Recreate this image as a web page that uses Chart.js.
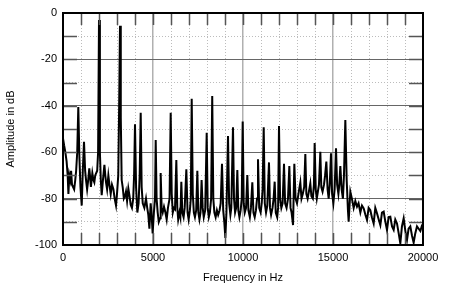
<!DOCTYPE html>
<html>
<head>
<meta charset="utf-8">
<script src="https://cdn.jsdelivr.net/npm/chart.js@4.4.1/dist/chart.umd.min.js"></script>
<style>
  html, body { margin: 0; padding: 0; background: #fff; }
  #wrap { width: 450px; height: 288px; }
</style>
</head>
<body>
<div id="wrap"><canvas id="chart-spektrum"></canvas></div>
<script>
// Spektrum: frekuensi (Hz) dan level (dB)
const freqHz = [
    0, 60, 130, 200, 260, 300, 350, 400, 450, 500, 560, 620, 680, 730, 790, 850, 910, 970,
    1040, 1100, 1167, 1230, 1280, 1340, 1400, 1460, 1510, 1550, 1630, 1690, 1740, 1790, 1833, 1900, 1950, 2000,
    2050, 2100, 2150, 2220, 2300, 2350, 2390, 2450, 2520, 2580, 2650, 2720, 2800, 2870, 2945, 3000, 3070, 3120,
    3167, 3210, 3260, 3316, 3380, 3444, 3500, 3560, 3630, 3700, 3760, 3830, 3900, 3950, 4000, 4060, 4130, 4200,
    4260, 4317, 4370, 4430, 4520, 4611, 4680, 4740, 4800, 4870, 4930, 4980, 5050, 5111, 5150, 5200, 5260, 5320,
    5390, 5426, 5480, 5540, 5611, 5690, 5760, 5830, 5920, 5983, 6040, 6100, 6160, 6222, 6296, 6350, 6400, 6470,
    6520, 6574, 6630, 6700, 6760, 6852, 6920, 6980, 7050, 7100, 7150, 7210, 7270, 7330, 7400, 7463, 7520, 7580,
    7640, 7700, 7760, 7820, 7900, 7983, 8040, 8100, 8160, 8230, 8290, 8350, 8410, 8480, 8550, 8620, 8700, 8760,
    8833, 8900, 8960, 9019, 9080, 9167, 9230, 9300, 9350, 9444, 9500, 9560, 9620, 9685, 9740, 9800, 9870, 9930,
    9983, 10040, 10100, 10170, 10240, 10300, 10380, 10440, 10518, 10580, 10650, 10720, 10780, 10833, 10900, 10980, 11040, 11090,
    11150, 11210, 11280, 11350, 11444, 11500, 11560, 11640, 11700, 11760, 11820, 11900, 11950, 12000, 12060, 12130, 12200, 12278,
    12340, 12420, 12500, 12574, 12640, 12700, 12780, 12852, 12920, 13000, 13060, 13120, 13185, 13250, 13320, 13400, 13463, 13520,
    13590, 13660, 13740, 13800, 13880, 13940, 13981, 14040, 14100, 14160, 14220, 14296, 14350, 14420, 14500, 14560, 14630, 14700,
    14760, 14820, 14889, 14950, 15020, 15090, 15167, 15230, 15300, 15350, 15407, 15480, 15550, 15610, 15685, 15760, 15830, 15870,
    15963, 16050, 16148, 16240, 16333, 16420, 16520, 16610, 16704, 16800, 16890, 16980, 17074, 17160, 17259, 17350, 17444, 17540,
    17630, 17720, 17815, 17910, 18000, 18090, 18185, 18280, 18370, 18460, 18555, 18650, 18740, 18830, 18926, 19020, 19111, 19200,
    19296, 19390, 19481, 19570, 19666, 19760, 19852, 19930, 20000
];
const levelDb = [
    -54, -57, -60, -64, -70, -78, -70, -72, -68, -74, -75, -76, -72, -68, -60, -40.5, -62, -75,
    -83, -68, -55.5, -68, -72, -76, -72, -67, -71, -75, -69, -72, -73, -70, -70, -68, -60, -3,
    -60, -72, -78.5, -72, -65.5, -70, -73, -76, -70, -74, -78, -74, -76, -80, -83, -78, -70, -40,
    -5.5, -45, -72, -75, -80, -79, -77, -81, -75.6, -79, -82.7, -84, -80, -70, -48, -75, -86, -82,
    -70, -43, -75, -82, -84, -80, -84, -87, -93, -82, -88, -95, -86, -80, -54.7, -80, -86, -90,
    -88.5, -69, -84, -86, -83.5, -86, -89, -84, -80, -43, -78, -86, -84, -84.6, -63.4, -84, -89, -86,
    -88, -72.7, -86, -88, -84, -67.4, -86, -89, -85, -80, -37, -78, -86, -88, -85, -68, -86, -89,
    -86, -72, -84, -88, -85, -51.6, -84, -88, -86, -80, -35.8, -80, -86, -88, -85, -87, -85, -82,
    -65, -85, -90, -97, -86, -53, -82, -87, -84, -49.3, -80, -86, -84, -67.7, -85, -88, -85, -80,
    -46.8, -82, -86, -84, -69.8, -85, -88, -84, -73, -86, -88, -85, -80, -63, -84, -86, -82, -76,
    -49.3, -82, -86, -83, -64.4, -84, -87, -84, -80, -72.7, -86, -88, -84, -48.7, -80, -84, -82, -65,
    -82, -84, -80, -66, -84, -86, -91.4, -65, -80, -82, -79, -76, -73, -80, -78, -75, -60.8, -78,
    -80, -77, -73.4, -79, -80, -74, -56, -76, -80, -77, -74, -59.8, -75, -77, -74, -70, -64, -76,
    -80, -74, -60.5, -78, -82, -76, -58.3, -74, -78, -74, -66, -76, -80, -70, -46.1, -72, -85, -90,
    -77, -80, -84, -81, -83.5, -82, -86, -83, -84.2, -87, -89.2, -84, -85, -88, -90.7, -84, -86.3, -89,
    -91.4, -86, -85.6, -90, -93.5, -88, -87.8, -92, -93.5, -89, -90.7, -95, -99.3, -92, -88.5, -94, -97.8, -93,
    -92, -96, -99, -95, -92, -93, -94, -92, -93
];

const xMin = 0, xMax = 20000, xLabelStep = 5000, xGridStep = 1000;
const yMin = -100, yMax = 0, yLabelStep = 20, yGridStep = 10;

const FONT = 'Arial, "Liberation Sans", sans-serif';

// Bingkai plot + tanda tick di sisi dalam
const bingkaiPlugin = {
    id: 'bingkai',
    afterDatasetsDraw(chart) {
        const { ctx, chartArea: a, scales } = chart;
        ctx.save();
        ctx.strokeStyle = '#555';
        ctx.lineWidth = 1.5;
        const tl = 12;
        for (let v = xMin + xGridStep; v < xMax; v += xGridStep) {
            const px = Math.round(scales.x.getPixelForValue(v)) + 0.5;
            ctx.beginPath();
            ctx.moveTo(px, a.top); ctx.lineTo(px, a.top + tl);
            ctx.moveTo(px, a.bottom); ctx.lineTo(px, a.bottom - tl);
            ctx.stroke();
        }
        for (let v = yMin + yGridStep; v < yMax; v += yGridStep) {
            const py = Math.round(scales.y.getPixelForValue(v)) + 0.5;
            ctx.beginPath();
            ctx.moveTo(a.left, py); ctx.lineTo(a.left + 14, py);
            ctx.moveTo(a.right, py); ctx.lineTo(a.right - 14, py);
            ctx.stroke();
        }
        ctx.strokeStyle = '#000';
        ctx.lineWidth = 2;
        ctx.strokeRect(a.left, a.top, a.right - a.left, a.bottom - a.top);
        ctx.restore();
    }
};

const ctx = document.getElementById('chart-spektrum').getContext('2d');
new Chart(ctx, {
    type: 'line',
    data: {
        datasets: [{
            data: freqHz.map((f, i) => ({ x: f, y: levelDb[i] })),
            borderColor: '#000',
            borderWidth: 2,
            pointRadius: 0,
            tension: 0,
            fill: false
        }]
    },
    options: {
        responsive: true,
        maintainAspectRatio: false,
        animation: false,
        layout: { padding: { top: 13, right: 27, left: 0, bottom: 0 } },
        plugins: { legend: { display: false }, tooltip: { enabled: false } },
        scales: {
            x: {
                type: 'linear',
                min: xMin, max: xMax,
                afterFit: s => { s.height = 43; },
                ticks: {
                    stepSize: xGridStep,
                    autoSkip: false,
                    maxRotation: 0,
                    padding: 6,
                    color: '#000',
                    font: { family: FONT, size: 11 },
                    callback: v => (v % xLabelStep === 0 ? v : '')
                },
                grid: {
                    drawTicks: false,
                    color: c => (c.tick.value % xLabelStep === 0 ? '#b0b0b0' : '#bcbcbc'),
                    lineWidth: c => (c.tick.value % xLabelStep === 0 ? 1.5 : 1)
                },
                border: {
                    display: false,
                    dash: c => (c.tick && c.tick.value % xLabelStep === 0 ? [] : [1, 2])
                },
                title: {
                    display: true,
                    text: 'Frequency in Hz',
                    color: '#000',
                    font: { family: FONT, size: 11 },
                    padding: { top: 0, bottom: 3 }
                }
            },
            y: {
                min: yMin, max: yMax,
                afterFit: s => { s.width = 63; },
                ticks: {
                    stepSize: yGridStep,
                    autoSkip: false,
                    padding: 6,
                    color: '#000',
                    font: { family: FONT, size: 11 },
                    callback: v => (v % yLabelStep === 0 ? v : '')
                },
                grid: {
                    drawTicks: false,
                    color: c => (c.tick.value % yLabelStep === 0 ? '#666' : '#bcbcbc'),
                    lineWidth: 1
                },
                border: {
                    display: false,
                    dash: c => (c.tick && c.tick.value % yLabelStep === 0 ? [] : [1, 2])
                },
                title: {
                    display: true,
                    text: 'Amplitude in dB',
                    color: '#000',
                    font: { family: FONT, size: 11 },
                    padding: { top: 4, bottom: 0 }
                }
            }
        }
    },
    plugins: [bingkaiPlugin]
});
</script>
</body>
</html>
